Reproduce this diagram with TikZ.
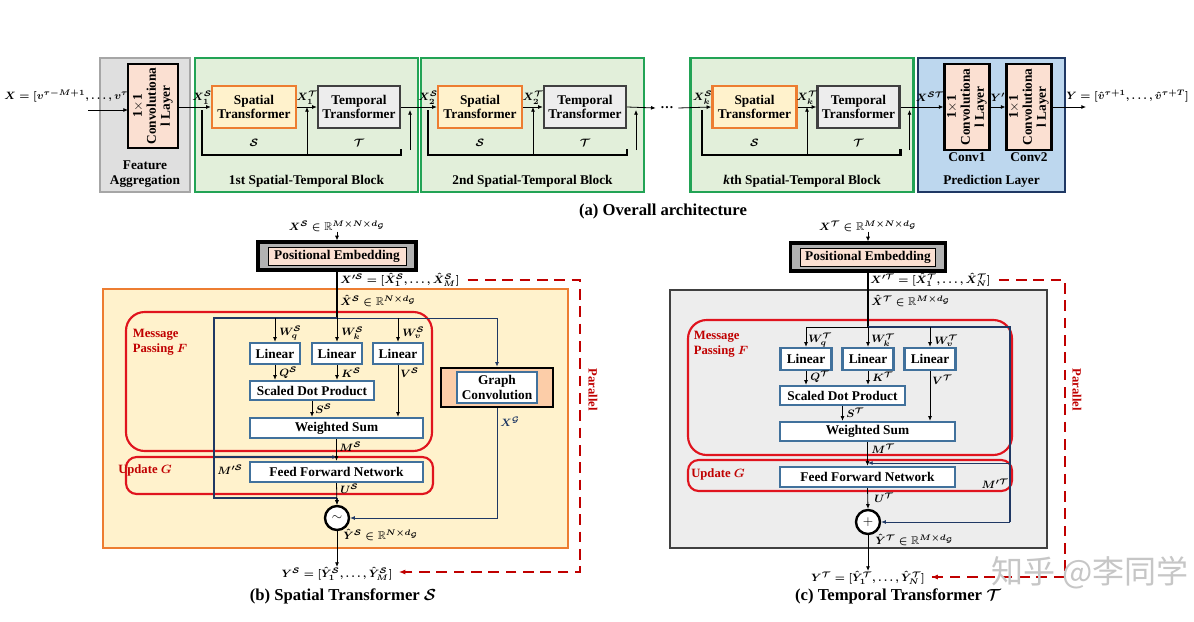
\documentclass[tikz,border=0pt]{standalone}
\usepackage{amsmath,amssymb,bm}
\usepackage{fontspec}
\setmainfont{Liberation Serif}
\newfontfamily\cjkf{Noto Sans CJK SC}
\usetikzlibrary{arrows.meta,calc}
\definecolor{gbord}{HTML}{22A355}
\definecolor{gfill}{HTML}{E2EFDA}
\definecolor{obord}{HTML}{ED7D31}
\definecolor{ofill}{HTML}{FFF2CC}
\definecolor{pinkf}{HTML}{FBE0D2}
\definecolor{bfill}{HTML}{BDD7EE}
\definecolor{navyc}{HTML}{1F3864}
\definecolor{linb}{HTML}{41719C}
\definecolor{redc}{HTML}{E0141E}
\definecolor{dred}{HTML}{C00000}
\definecolor{grayf}{HTML}{EDEDED}
\definecolor{grayb}{HTML}{404040}
\begin{document}
\begin{tikzpicture}[x=0.75pt,y=-0.75pt,
  wh/.style 2 args={minimum width=#1*0.75pt,minimum height=#2*0.75pt,inner sep=0pt},
  txt/.style={font=\bfseries\fontsize{10}{11}\selectfont,align=center},
  lab/.style={font=\fontsize{8.5}{10}\selectfont\boldmath,inner sep=0pt},
  captxt/.style={font=\bfseries\fontsize{12.5}{14}\selectfont\boldmath,inner sep=0pt},
  arr/.style={-{Latex[length=3.5pt,width=3pt]}},
  thinl/.style={line width=0.6pt},
  thickl/.style={line width=1.6pt},
  st/.style={txt,draw=obord,fill=ofill,line width=1.8pt},
  tt/.style={txt,draw=grayb,fill=grayf,line width=1.8pt},
  conv/.style={draw=black,fill=pinkf,line width=1.6pt,font=\bfseries\fontsize{10}{10.5}\selectfont,align=center},
  lin/.style={txt,draw=linb,fill=white,line width=1.8pt},
  redbox/.style={draw=redc,line width=1.6pt,rounded corners=14pt},
  redt/.style={font=\bfseries\fontsize{9.5}{11}\selectfont,text=dred,align=left,inner sep=0pt},
  dsh/.style={draw=dred,line width=1.2pt,dash pattern=on 8pt off 5pt},
]
\useasboundingbox (0,0) rectangle (1194,621);
\fill[white] (0,0) rectangle (1194,621);
% ===== (a) =====
\coordinate (xa) at (88,110);
\node[draw=gray!70,fill=gray!25,line width=1.6pt,wh={90}{134}] (fa) at (145,125) {};
\node[lab,anchor=west,font=\fontsize{8}{9}\selectfont\boldmath] (xin) at (4,96) {$X=[v^{\tau-M+1},\ldots,v^{\tau}]$};
\node[conv,wh={84}{50},rotate=90] (c0) at (153,106) {1$\times$1\\Convolutiona\\l Layer};
\node[txt] (fal) at (145,174) {Feature\\Aggregation};
\draw[arr,thinl] (xa) -- (128,110);
\foreach \n/\cx/\sl/\sx/\tx/\bl in {1/306.5/1/254/359/1st,2/532.5/2/480/585/2nd,k/802/k/754.5/858.5/{\itshape k}th}{
  \node[draw=gbord,fill=gfill,line width=1.6pt,wh={223}{134}] (g\n) at (\cx,125) {};
  \node[st,wh={84}{42}] (s\n) at (\sx,107) {Spatial\\Transformer};
  \node[tt,wh={82}{42}] (t\n) at (\tx,107) {Temporal\\Transformer};
  \node[txt] (bl\n) at (\cx,181) {\bl\ Spatial-Temporal Block};
  \node[lab] (ls\n) at (\sx,143) {$\mathcal{S}$};
  \node[lab] (lt\n) at (\tx,143) {$\mathcal{T}$};
  \coordinate (m\n) at ($(s\n.east)!0.5!(t\n.west)$);
  \coordinate (bot\n) at (\cx,155);
  \draw[arr,thinl] (s\n.east) -- (t\n.west);
  \draw[thickl] (s\n.west)+(-9,3) |- (\tx+42,155) -- +(0,-6);
  \draw[arr,thinl] (m\n|-bot\n) -- (m\n);
  \draw[arr,thinl] (\tx+51,150) -- (\tx+51,110);
  \node[lab,anchor=south east] (xs\n) at ([xshift=1pt,yshift=2pt]s\n.west) {$X_{\sl}^{\mathcal{S}}$};
  \node[lab,anchor=south] (xt\n) at ([yshift=2pt]m\n) {$X_{\sl}^{\mathcal{T}}$};
}
\draw[arr,thinl] (c0.south|-s1.west) -- (s1.west);
\draw[arr,thinl] (t1.east) -- (s2.west);
\node[txt] (dots) at (667,108) {\dots};
\draw[arr,thinl] (t2.east) -- (dots.west);
\draw[arr,thinl] (dots.east) -- (sk.west);
\node[draw=navyc,fill=bfill,line width=1.8pt,wh={147}{134}] (pl) at (991.5,125) {};
\node[conv,wh={86}{45},rotate=90] (c1) at (967,107) {1$\times$1\\Convolutiona\\l Layer};
\node[conv,wh={86}{45},rotate=90] (c2) at (1029,107) {1$\times$1\\Convolutiona\\l Layer};
\node[txt] (c1l) at (967,157) {Conv1};
\node[txt] (c2l) at (1029,157) {Conv2};
\node[txt] (pll) at (991.5,181) {Prediction Layer};
\draw[arr,thinl] (tk.east) -- (c1.north|-tk.east);
\node[lab] (xst) at (930,97) {$X^{\mathcal{ST}}$};
\draw[arr,thinl] (c1.south|-tk.east) -- (c2.north|-tk.east);
\node[lab] (yp) at (998,97) {$Y'$};
\coordinate (ya) at (1086,107);
\draw[arr,thinl] (c2.south|-tk.east) -- (ya);
\node[lab,anchor=west,font=\fontsize{8}{9}\selectfont\boldmath] (yout) at (1066,96) {$Y=[\hat v^{\tau+1},\ldots,\hat v^{\tau+T}]$};
\node[captxt] (capa) at (663,211) {(a) Overall architecture};
% ===== (b) =====
\node[draw=obord,fill=ofill,line width=1.6pt,wh={465}{259}] (bbg) at (335.5,418.5) {};
\draw[redbox] (126,312) rectangle (432,451);
\draw[redbox,rounded corners=8pt] (126,457) rectangle (433,494);
\node[redt] (bmp) at (160,342) {Message\\Passing $\bm{F}$};
\node[redt] (bup) at (145,470) {Update $\bm{G}$};
\node[lab] (bxs) at (337,226) {$X^{\mathcal{S}}\in\mathbb{R}^{M\times N\times d_{\mathcal{G}}}$};
\node[draw=black,fill=gray!60,line width=2.4pt,wh={158}{28}] (bpeo) at (337,256) {};
\node[txt,draw=black,fill=pinkf,line width=0.6pt,wh={138}{18}] (bpe) at (337,256) {Positional Embedding};
\draw[arr,thinl] (bxs.south) -- (bpeo.north);
\coordinate (bTop) at (337,318); \coordinate (bL) at (214,318); \coordinate (bR) at (497,318);
\coordinate (bL1) at (214,457); \coordinate (bL2) at (214,498);
\draw[thickl] (bpeo.south) -- (bTop);
\node[lab,anchor=west] (bxp) at (340,280) {$X'^{\mathcal{S}}=[\hat X_1^{\mathcal{S}},\ldots,\hat X_M^{\mathcal{S}}]$};
\node[lab,anchor=west] (bxh) at (340,301) {$\hat X^{\mathcal{S}}\in\mathbb{R}^{N\times d_{\mathcal{G}}}$};
\node[lin,wh={50}{21}] (bq) at (275,353.5) {Linear};
\node[lin,wh={50}{21}] (bk) at (337,353.5) {Linear};
\node[lin,wh={50}{21}] (bv) at (398,353.5) {Linear};
\node[lin,wh={124}{19}] (bsd) at (312,390.5) {Scaled Dot Product};
\node[lin,wh={173}{20}] (bws) at (336.5,428) {Weighted Sum};
\node[lin,wh={173}{20}] (bff) at (336.5,472) {Feed Forward Network};
\node[circle,draw=black,fill=white,line width=1.8pt,minimum size=18pt,inner sep=0pt] (bc) at (337,518) {$\sim$};
\node[draw=black,fill=pinkf!80!orange,line width=2pt,wh={112}{39}] (bgo) at (497,387.5) {};
\node[txt,draw=linb,fill=white,line width=1.2pt,wh={80}{31}] (bg) at (497,387.5) {Graph\\Convolution};
\draw[navyc,thickl] (bTop) -- (bL) -- (bL2) -- (bL2-|bc.north);
\draw[arr,navyc,thickl] (bL2-|bc.north) -- (bc.north);
\draw[arr,navyc,thickl] (bL1) -- (bL1-|bc.north);
\draw[arr,navyc,thinl] (bTop) -- (bR) -- (bgo.north);
\draw[arr,thinl] (bq|-bTop) -- (bq.north);
\draw[arr,thinl] (bk|-bTop) -- (bk.north);
\draw[arr,thinl] (bv|-bTop) -- (bv.north);
\draw[arr,thinl] (bq.south) -- (bq.south|-bsd.north);
\draw[arr,thinl] (bk.south) -- (bk.south|-bsd.north);
\draw[arr,thinl] (bv.south) -- (bv.south|-bws.north);
\draw[arr,thinl] (bsd.south) -- (bsd.south|-bws.north);
\draw[arr,thinl] (bws.south) -- (bff.north);
\draw[arr,thinl] (bff.south) -- (bc.north);
\draw[arr,navyc,thinl] (bgo.south) |- (bc.east);
\node[lab,anchor=west] at (279,333) {$W_q^{\mathcal{S}}$};
\node[lab,anchor=west] at (341,333) {$W_k^{\mathcal{S}}$};
\node[lab,anchor=west] at (402,333) {$W_v^{\mathcal{S}}$};
\node[lab,anchor=west] at (279,373) {$Q^{\mathcal{S}}$};
\node[lab,anchor=west] at (341,373) {$K^{\mathcal{S}}$};
\node[lab,anchor=west] at (400,373) {$V^{\mathcal{S}}$};
\node[lab,anchor=west] at (315,409) {$S^{\mathcal{S}}$};
\node[lab,anchor=west] at (339,447) {$M^{\mathcal{S}}$};
\node[lab,anchor=west] at (340,489) {$U^{\mathcal{S}}$};
\node[lab] at (230,470) {$M'^{\mathcal{S}}$};
\node[lab,text=navyc] at (510,422) {$X^{\mathcal{G}}$};
\node[lab,anchor=west] at (343,535) {$\hat Y^{\mathcal{S}}\in\mathbb{R}^{N\times d_{\mathcal{G}}}$};
\node[lab] (bys) at (337,574) {$Y^{\mathcal{S}}=[\hat Y_1^{\mathcal{S}},\ldots,\hat Y_M^{\mathcal{S}}]$};
\draw[arr,thinl] (bc.south) -- (bys.north);
\coordinate (bd1) at ($(bxp.east)+(8,0)$); \coordinate (bd2) at (580,280); \coordinate (bd3) at (580,572); \coordinate (bd4) at ($(bys.east)+(6,-2)$);
\draw[dsh] (bd1) -- (bd2) -- (bd3) -- (bd4);
\draw[-{Latex[length=5pt]},dred,line width=1.2pt] ($(bd4)+(5,0)$) -- (bd4);
\node[redt,rotate=-90] (bpar) at (593,390) {Parallel};
\node[captxt] (capb) at (343,596) {(b) Spatial Transformer $\mathcal{S}$};
% ===== (c) =====
\node[draw=grayb,fill=grayf,line width=1.8pt,wh={377}{258}] (cbg) at (858.5,419) {};
\draw[redbox] (688,320) rectangle (1012,455);
\draw[redbox,rounded corners=8pt] (688,460) rectangle (1012,491);
\node[redt] (cmp) at (721,344) {Message\\Passing $\bm{F}$};
\node[redt] (cup) at (718,474) {Update $\bm{G}$};
\node[lab] (cxs) at (868,226) {$X^{\mathcal{T}}\in\mathbb{R}^{M\times N\times d_{\mathcal{G}}}$};
\node[draw=black,fill=gray!60,line width=2.4pt,wh={155}{28}] (cpeo) at (868,257) {};
\node[txt,draw=black,fill=pinkf,line width=0.6pt,wh={135}{18}] (cpe) at (868,257) {Positional Embedding};
\draw[arr,thinl] (cxs.south) -- (cpeo.north);
\coordinate (cTop) at (868,327); \coordinate (cR) at (1010,327); \coordinate (cR1) at (1010,463); \coordinate (cR2) at (1010,522);
\draw[thickl] (cpeo.south) -- (cTop);
\node[lab,anchor=west] (cxp) at (870,280) {$X'^{\mathcal{T}}=[\hat X_1^{\mathcal{T}},\ldots,\hat X_N^{\mathcal{T}}]$};
\node[lab,anchor=west] (cxh) at (871,301) {$\hat X^{\mathcal{T}}\in\mathbb{R}^{M\times d_{\mathcal{G}}}$};
\node[lin,wh={51}{22}] (cq) at (806,359) {Linear};
\node[lin,wh={51}{22}] (ck) at (868,359) {Linear};
\node[lin,wh={51}{22}] (cv) at (930,359) {Linear};
\node[lin,wh={125}{19}] (csd) at (842.5,395.5) {Scaled Dot Product};
\node[lin,wh={175}{19}] (cws) at (867.5,431.5) {Weighted Sum};
\node[lin,wh={175}{20}] (cff) at (867.5,477) {Feed Forward Network};
\node[circle,draw=black,fill=white,line width=1.8pt,minimum size=18pt,inner sep=0pt] (cc) at (868,522) {$+$};
\draw[thinl] (cq|-cTop) -- (cTop);
\draw[navyc,thickl] (cTop) -- (cR) -- (cR2);
\draw[arr,navyc,thinl] (cR2) -- (cc.east);
\draw[arr,navyc,thinl] (cR1) -- (cR1-|cc.north);
\draw[arr,thinl] (cq|-cTop) -- (cq.north);
\draw[arr,thinl] (ck|-cTop) -- (ck.north);
\draw[arr,thinl] (cv|-cTop) -- (cv.north);
\draw[arr,thinl] (cq.south) -- (cq.south|-csd.north);
\draw[arr,thinl] (ck.south) -- (ck.south|-csd.north);
\draw[arr,thinl] (cv.south) -- (cv.south|-cws.north);
\draw[arr,thinl] (csd.south) -- (csd.south|-cws.north);
\draw[arr,thinl] (cws.south) -- (cff.north);
\draw[arr,thinl] (cff.south) -- (cc.north);
\node[lab,anchor=west] at (808,340) {$W_q^{\mathcal{T}}$};
\node[lab,anchor=west] at (871,340) {$W_k^{\mathcal{T}}$};
\node[lab,anchor=west] at (934,341) {$W_v^{\mathcal{T}}$};
\node[lab,anchor=west] at (810,377) {$Q^{\mathcal{T}}$};
\node[lab,anchor=west] at (872,377) {$K^{\mathcal{T}}$};
\node[lab,anchor=west] at (932,380) {$V^{\mathcal{T}}$};
\node[lab,anchor=west] at (846,413) {$S^{\mathcal{T}}$};
\node[lab,anchor=west] at (871,449) {$M^{\mathcal{T}}$};
\node[lab,anchor=west] at (874,498) {$U^{\mathcal{T}}$};
\node[lab] at (995,484) {$M'^{\mathcal{T}}$};
\node[lab,anchor=west] at (875,540) {$\hat Y^{\mathcal{T}}\in\mathbb{R}^{M\times d_{\mathcal{G}}}$};
\node[lab] (cys) at (868,578) {$Y^{\mathcal{T}}=[\hat Y_1^{\mathcal{T}},\ldots,\hat Y_N^{\mathcal{T}}]$};
\draw[arr,thinl] (cc.south) -- (cys.north);
\coordinate (cd1) at ($(cxp.east)+(8,0)$); \coordinate (cd2) at (1065,280); \coordinate (cd3) at (1065,577); \coordinate (cd4) at ($(cys.east)+(6,-1)$);
\draw[dsh] (cd1) -- (cd2) -- (cd3) -- (cd4);
\draw[-{Latex[length=5pt]},dred,line width=1.2pt] ($(cd4)+(5,0)$) -- (cd4);
\node[redt,rotate=-90] (cpar) at (1077,390) {Parallel};
\node[captxt] (capc) at (898,596) {(c) Temporal Transformer $\mathcal{T}$};
\node[font=\cjkf\fontsize{24}{26}\selectfont,text=gray!45] (wm) at (1090,573) {知乎 @李同学};
\end{tikzpicture}
\end{document}
